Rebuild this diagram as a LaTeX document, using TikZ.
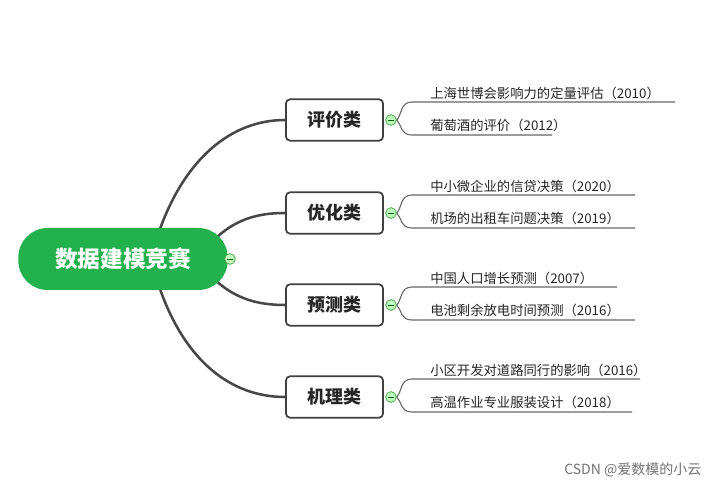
\documentclass[tikz,border=0pt]{standalone}
\usepackage{fontspec}
\setmainfont{Noto Sans CJK SC}
\definecolor{rootg}{HTML}{22B14C}
\begin{document}
\begin{tikzpicture}[x=0.75pt,y=-0.75pt,
  conn/.style={draw=black!72,line width=1.9pt},
  leafln/.style={draw=black!60,line width=0.8pt},
  cat/.style={draw=black!75,line width=1.3pt,rounded corners=3pt,minimum width=72.75pt,minimum height=31pt,font=\fontsize{13.5}{15}\selectfont\bfseries,text=black!85},
  leaf/.style={anchor=west,font=\fontsize{10}{11}\selectfont,text=black!85,inner sep=0pt},
  mn/.style={circle,draw=green!50!black!70,fill=green!25!white,line width=0.6pt,minimum size=8pt,inner sep=0pt,
     path picture={\draw[green!40!black,line width=0.6pt] ([xshift=-2.2pt]path picture bounding box.center)--([xshift=2.2pt]path picture bounding box.center);}}]
\useasboundingbox (0,0) rectangle (720,491);
\fill[white] (0,0) rectangle (720,491);
\coordinate (r1) at (160,229);
\coordinate (r2) at (212,242);
\coordinate (r3) at (212,277);
\coordinate (r4) at (160,289);
\node[cat] (c1) at (334.5,120) {评价类};
\node[cat] (c2) at (334.5,213) {优化类};
\node[cat] (c3) at (334.5,305) {预测类};
\node[cat] (c4) at (334.5,397) {机理类};
\draw[conn] (r1) .. controls (185,160) and (230,120) .. (c1.west);
\draw[conn] (r2) .. controls (235,218) and (260,213) .. (c2.west);
\draw[conn] (r3) .. controls (235,300) and (260,305) .. (c3.west);
\draw[conn] (r4) .. controls (185,360) and (230,397) .. (c4.west);
\node[fill=rootg,rounded corners=22pt,minimum width=157pt,minimum height=46.5pt,text=white,font=\fontsize{17}{19}\selectfont\bfseries] (root) at (123,259) {数据建模竞赛};
\node[mn] (m0) at (230,259) {};
\foreach \i/\y/\ta/\ea/\tb/\eb in {
  1/120/上海世博会影响力的定量评估（2010）/675/葡萄酒的评价（2012）/552,
  2/213/中小微企业的信贷决策（2020）/635/机场的出租车问题决策（2019）/635,
  3/305/中国人口增长预测（2007）/617/电池剩余放电时间预测（2016）/635,
  4/397/小区开发对道路同行的影响（2016）/640/高温作业专业服装设计（2018）/632}{
  \node[mn] (m\i) at (391,\y) {};
  \coordinate (a\i) at (412,\y-18);
  \coordinate (b\i) at (412,\y+15);
  \coordinate (ae\i) at (\ea,\y-18);
  \coordinate (be\i) at (\eb,\y+15);
  \draw[leafln] (m\i.east) .. controls (402,\y-5) and (400,\y-18) .. (a\i) -- (ae\i);
  \draw[leafln] (m\i.east) .. controls (402,\y+5) and (400,\y+15) .. (b\i) -- (be\i);
  \node[leaf] (ta\i) at (430,\y-27) {\ta};
  \node[leaf] (tb\i) at (430,\y+5) {\tb};
}
\node[anchor=east,text=black!55,font=\fontsize{10.5}{12}\selectfont] (wm) at (706,470) {CSDN @爱数模的小云};
\end{tikzpicture}
\end{document}
